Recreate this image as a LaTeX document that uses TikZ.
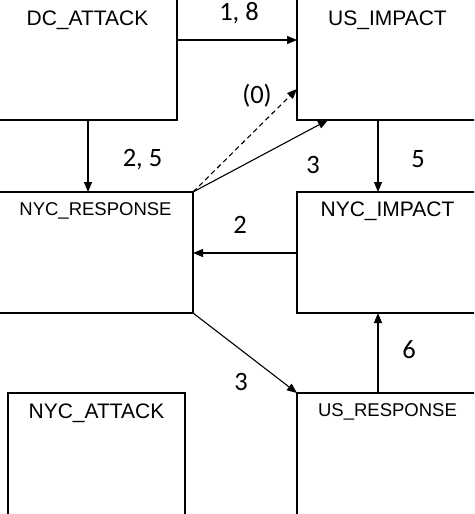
\documentclass[tikz,border=0pt]{standalone}
\usepackage{fontspec}
\usetikzlibrary{arrows.meta}
\newfontfamily\boxfont{Liberation Sans}
\newfontfamily\numfont{Carlito}

\begin{document}
\begin{tikzpicture}[x=1pt, y=-1pt,
	box/.style = {draw, line width=1.1pt, inner sep=0pt, outer sep=0pt},
	big/.style = {anchor=base, inner sep=0pt, font=\boxfont\fontsize{21}{25}\selectfont},
	small/.style = {anchor=base, inner sep=0pt, font=\boxfont\fontsize{18.5}{22}\selectfont},
	num/.style = {anchor=base, inner sep=0pt, font=\numfont\fontsize{26.5}{30}\selectfont},
	arr/.style = {line width=1.1pt, -{Triangle[length=10pt,width=8pt]}}]
		\useasboundingbox (0,0) rectangle (474,514);
		\clip (0,0) rectangle (474,514);
		
		\node[box, minimum width=179pt, minimum height=122pt, label={[big, yshift=-27pt]north:DC\_ATTACK}] (dcatt) at (87.5,59) {};
		\node[box, minimum width=181pt, minimum height=122pt, label={[big, yshift=-27pt]north:US\_IMPACT}] (usimp) at (387.5,59) {};
		\node[box, minimum width=195pt, minimum height=121pt, label={[small, yshift=-23pt]north:NYC\_RESPONSE}] (nycres) at (95.5,252.5) {};
		\node[box, minimum width=181pt, minimum height=121pt, label={[big, yshift=-24.5pt]north:NYC\_IMPACT}] (nycimp) at (387.5,252.5) {};
		\node[box, minimum width=177pt, minimum height=125pt, label={[big, yshift=-25pt]north:NYC\_ATTACK}] (nycatt) at (96.5,455.5) {};
		\node[box, minimum width=181pt, minimum height=125pt, label={[small, yshift=-23pt]north:US\_RESPONSE}] (usres) at (387.5,455.5) {};
		
		\draw[arr] (dcatt.east |- 0,40) -- (usimp.west |- 0,40);
		\draw[arr] (88,0 |- dcatt.south) -- (88,0 |- nycres.north);
		\draw[arr, dash pattern=on 5pt off 3.5pt] (nycres.north east) -- (usimp.west |- 0,89);
		\draw[arr] (nycres.north east) -- (328,0 |- usimp.south);
		\draw[arr] (378,0 |- usimp.south) -- (378,0 |- nycimp.north);
		\draw[arr] (nycimp.west |- 0,253) -- (nycres.east |- 0,253);
		\draw[arr] (nycres.south east) -- (usres.north west);
		\draw[arr] (378,0 |- usres.north) -- (378,0 |- nycimp.south);
		
		\node[num] (n18) at (239,20.7) {1, 8};
		\node[num] (n0) at (257,103.5) {(0)};
		\node[num] (n25) at (142.5,166) {2, 5};
		\node[num] (n3a) at (313,173) {3};
		\node[num] (n5) at (418,167) {5};
		\node[num] (n2) at (240,233) {2};
		\node[num] (n6) at (409,358) {6};
		\node[num] (n3b) at (241,390) {3};
	\end{tikzpicture}
\end{document}
